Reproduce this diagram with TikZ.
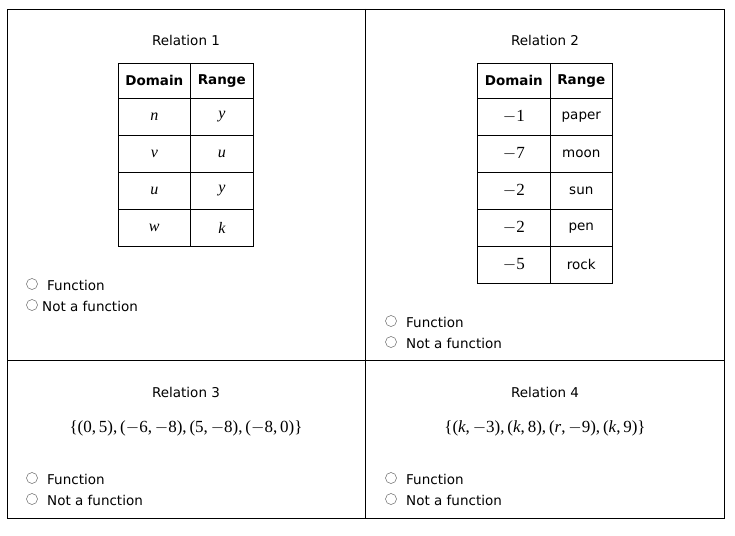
\documentclass[tikz,border=0pt]{standalone}
\usepackage{fontspec}
\setmainfont{DejaVu Sans}
\newfontfamily\mathser{Liberation Serif}
\begin{document}
\begin{tikzpicture}[x=1pt,y=-1pt,
  every node/.style={font=\fontsize{13.5}{16}\selectfont},
  cell/.style={draw=black,line width=0.6pt,minimum height=37pt,inner sep=0pt,anchor=north west},
  hd/.style={font=\fontsize{13.5}{16}\selectfont\bfseries},
  radio/.style={draw=gray!80!black,circle,minimum size=11pt,inner sep=0pt,line width=0.5pt},
  lbl/.style={anchor=west,inner sep=0pt},
  mt/.style={font=\fontsize{16}{18}\selectfont\mathser\itshape},
  mn/.style={font=\fontsize{17}{19}\selectfont\mathser}]
\useasboundingbox (0,0) rectangle (735,535);
\draw[line width=0.6pt] (7,9) rectangle (724,518);
\draw[line width=0.6pt] (365,9) -- (365,518);
\draw[line width=0.6pt] (7,360) -- (724,360);
% Relation 1
\node (t1) at (186,40) {Relation 1};
\node[cell,minimum width=72pt,minimum height=35pt,hd] (a0) at (118,63) {Domain};
\node[cell,minimum width=63pt,minimum height=35pt,hd] (b0) at (190,63) {Range};
\foreach \i/\d/\r [count=\k] in {98/n/y,135/v/u,172/u/y,209/w/k}{
  \node[cell,minimum width=72pt,mt] (a\k) at (118,\i) {\d};
  \node[cell,minimum width=63pt,mt] (b\k) at (190,\i) {\r};}
\node[radio] (r11) at (32,284) {}; \node[lbl] (l11) at (47,285) {Function};
\node[radio] (r12) at (32,305) {}; \node[lbl] (l12) at (42,306) {Not a function};
% Relation 2
\node (t2) at (545,40) {Relation 2};
\node[cell,minimum width=73pt,minimum height=35pt,hd] (c0) at (477,63) {Domain};
\node[cell,minimum width=62pt,minimum height=35pt,hd] (d0) at (550,63) {Range};
\foreach \i/\d/\r [count=\k] in {98/1/paper,135/7/moon,172/2/sun,209/2/pen,246/5/rock}{
  \node[cell,minimum width=73pt,mn] (c\k) at (477,\i) {$-$\d};
  \node[cell,minimum width=62pt] (d\k) at (550,\i) {\r};}
\node[radio] (r21) at (391,321) {}; \node[lbl] (l21) at (406,322) {Function};
\node[radio] (r22) at (391,342) {}; \node[lbl] (l22) at (406,343) {Not a function};
% Relation 3
\node (t3) at (186,392) {Relation 3};
\node[mn] (s3) at (186,428) {\{(0,\,5),\,($-$6,\,$-$8),\,(5,\,$-$8),\,($-$8,\,0)\}};
\node[radio] (r31) at (32,478) {}; \node[lbl] (l31) at (47,479) {Function};
\node[radio] (r32) at (32,499) {}; \node[lbl] (l32) at (47,500) {Not a function};
% Relation 4
\node (t4) at (545,392) {Relation 4};
\node[mn] (s4) at (545,428) {\{(\textit{k},\,$-$3),\,(\textit{k},\,8),\,(\textit{r},\,$-$9),\,(\textit{k},\,9)\}};
\node[radio] (r41) at (391,478) {}; \node[lbl] (l41) at (406,479) {Function};
\node[radio] (r42) at (391,499) {}; \node[lbl] (l42) at (406,500) {Not a function};
\end{tikzpicture}
\end{document}
